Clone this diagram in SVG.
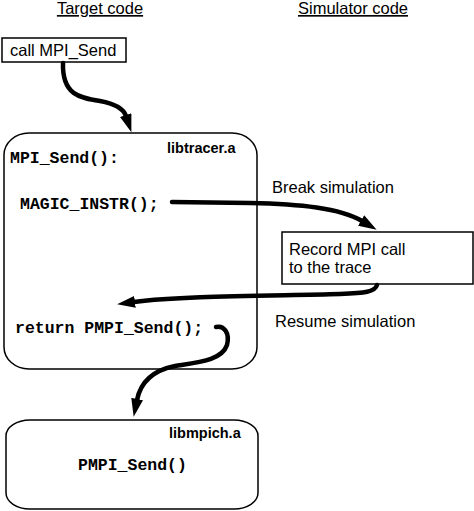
<svg xmlns="http://www.w3.org/2000/svg" width="474" height="511" viewBox="0 0 474 511">
<defs>
<style>
.sans{font-family:"Liberation Sans",Arial,sans-serif;font-size:16.5px;fill:#000}
.lib{font-family:"Liberation Sans",Arial,sans-serif;font-size:14.5px;font-weight:bold;fill:#000}
.mono{font-family:"Liberation Mono","Courier New",monospace;font-size:16.5px;font-weight:bold;fill:#000}
.box{fill:#fff;stroke:#000;stroke-width:1.5}
.conn{fill:none;stroke:#000;stroke-width:4.5;stroke-linecap:round}
</style>
<marker id="ah" viewBox="0 0 18 12" refX="1" refY="6" markerWidth="18" markerHeight="12" markerUnits="userSpaceOnUse" orient="auto">
<path d="M0,0 L18,6 L0,12 Z" fill="#000"/>
</marker>
</defs>
<g id="headers">
<text class="sans" x="100" y="14" text-anchor="middle" text-decoration="underline">Target code</text>
<text class="sans" x="353" y="14" text-anchor="middle" text-decoration="underline">Simulator code</text>
</g>
<g id="node-call">
<rect class="box" x="2" y="38" width="124" height="24"/>
<text class="sans" x="10" y="56">call MPI_Send</text>
</g>
<g id="node-libtracer">
<rect class="box" x="4" y="133" width="253" height="236" rx="25" ry="22"/>
<text class="lib" x="167" y="153">libtracer.a</text>
<text class="mono" x="10" y="163">MPI_Send():</text>
<text class="mono" x="20" y="209">MAGIC_INSTR();</text>
<text class="mono" x="15" y="333">return PMPI_Send();</text>
</g>
<g id="node-record">
<rect class="box" x="282" y="232" width="191" height="52"/>
<text class="sans" x="289" y="255">Record MPI call</text>
<text class="sans" x="289" y="273">to the trace</text>
</g>
<g id="node-libmpich">
<rect class="box" x="6" y="420" width="252" height="89" rx="24" ry="16"/>
<text class="lib" x="169" y="438">libmpich.a</text>
<text class="mono" x="78" y="470">PMPI_Send()</text>
</g>
<g id="labels">
<text class="sans" x="272" y="193">Break simulation</text>
<text class="sans" x="275" y="327">Resume simulation</text>
</g>
<g id="connectors">
<path class="conn" marker-end="url(#ah)" d="M63,63 C62,95 80,98 100,101 C116,104 124,110 126,116"/>
<path class="conn" marker-end="url(#ah)" d="M172,202 L250,203 C300,204 340,208 362,221"/>
<path class="conn" marker-end="url(#ah)" d="M377,285 C375,292 365,293 340,294 C260,296 180,296 134,302"/>
<path class="conn" marker-end="url(#ah)" d="M216,327 C224,325 230,333 227,345 C222,360 200,362 175,366 C150,371 140,385 137,400"/>
</g>
</svg>
